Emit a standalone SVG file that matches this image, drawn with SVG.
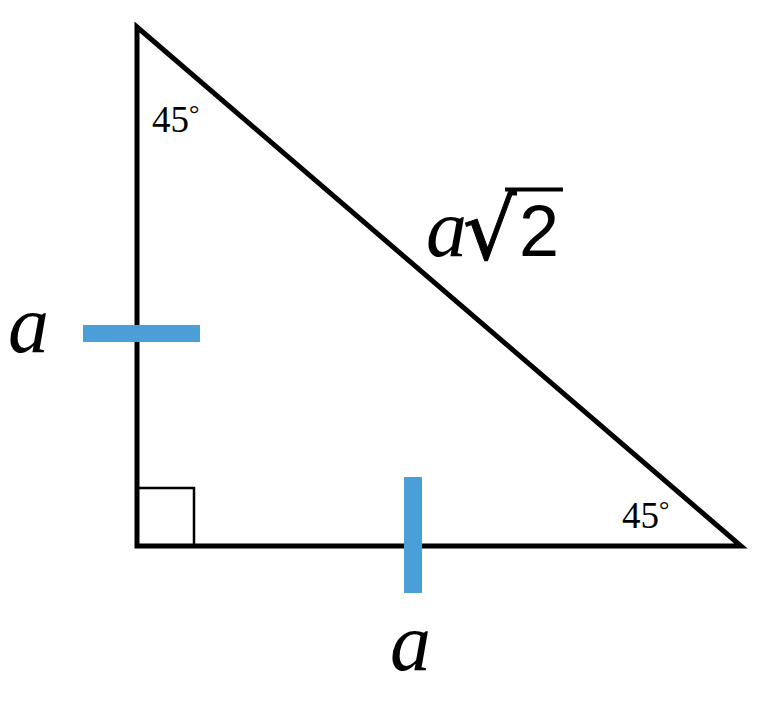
<svg xmlns="http://www.w3.org/2000/svg" width="768" height="712" viewBox="0 0 768 712">
<style>
.edge{fill:none;stroke:#000;stroke-width:5;stroke-linejoin:miter;stroke-miterlimit:12}
.tick{fill:#4a9fd6}
.var{font-family:"Liberation Serif",serif;font-style:italic;font-size:82px;fill:#000}
.ang{font-family:"Liberation Serif",serif;font-size:37px;fill:#000}
.deg{font-size:26px}
</style>
<rect width="768" height="712" fill="#fff"/>
<g id="triangle">
<polygon class="edge" points="137,27 137,546 741,546"/>
<rect x="137" y="488" width="57" height="58" fill="none" stroke="#000" stroke-width="2.5"/>
</g>
<g id="ticks">
<rect class="tick" x="83" y="325" width="117" height="17"/>
<rect class="tick" x="404" y="477" width="18" height="116"/>
</g>
<g id="label-left"><text class="var" x="8" y="352">a</text></g>
<g id="label-bottom"><text class="var" x="390" y="670">a</text></g>
<g id="label-hyp">
<text class="var" x="426" y="256">a</text>
<text x="463" y="259" font-family="DejaVu Sans,sans-serif" font-size="84" fill="#000" stroke="#000" stroke-width="1">√</text>
<line x1="505" y1="189.5" x2="563" y2="189.5" stroke="#000" stroke-width="4"/>
<text x="519" y="256" font-family="Liberation Sans,sans-serif" font-size="72" fill="#000">2</text>
</g>
<g id="angle-top"><text class="ang" x="152" y="132">45<tspan class="deg" dy="-10">°</tspan></text></g>
<g id="angle-right"><text class="ang" x="622" y="528">45<tspan class="deg" dy="-10">°</tspan></text></g>
</svg>
